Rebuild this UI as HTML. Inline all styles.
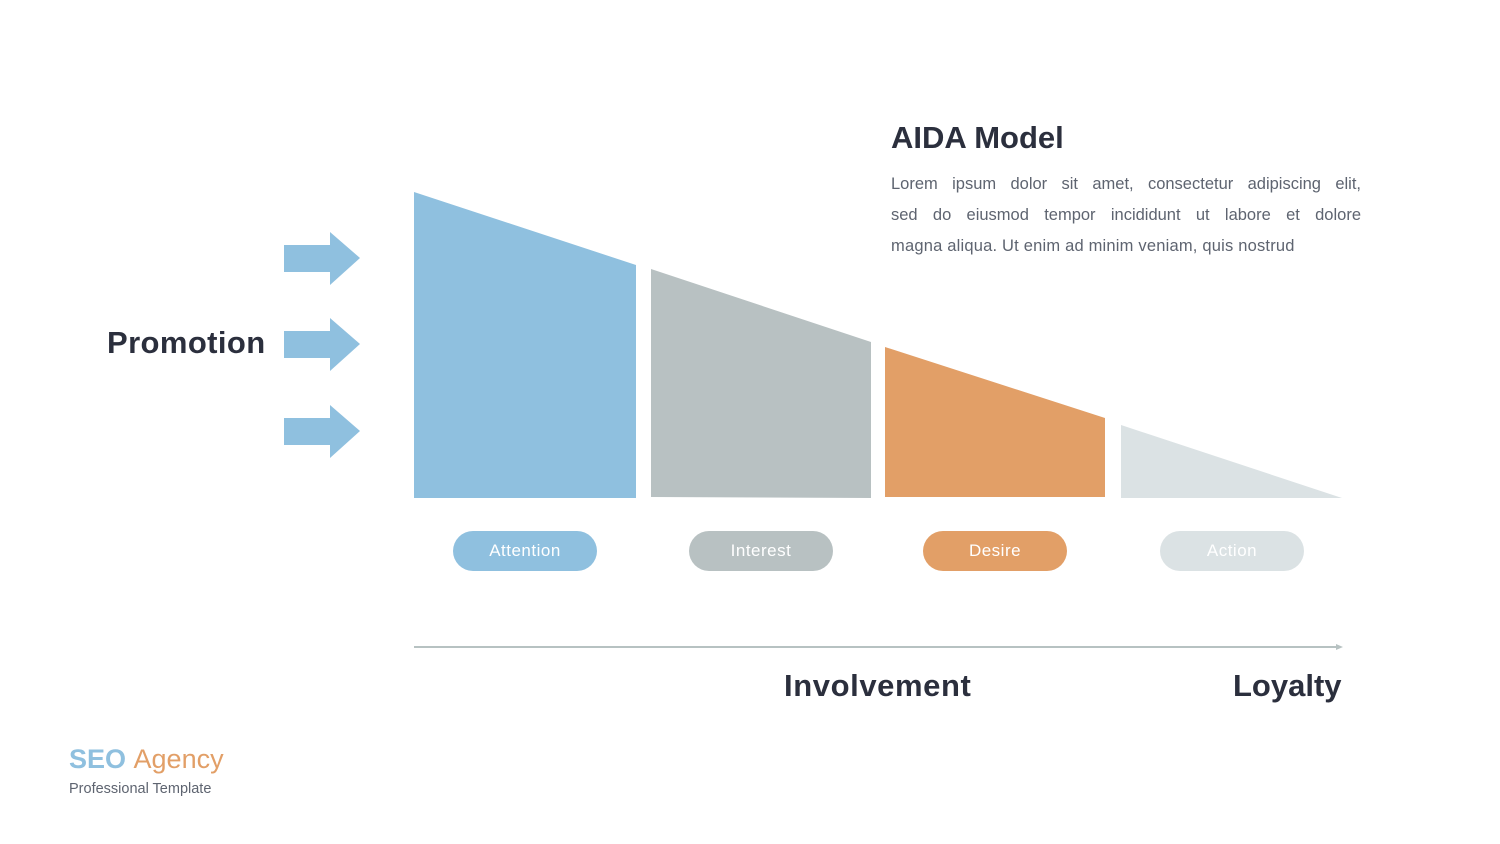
<!DOCTYPE html>
<html><head><meta charset="utf-8"><style>
body{margin:0;width:1500px;height:844px;background:#fff;position:relative;overflow:hidden;font-family:"Liberation Sans","DejaVu Sans",sans-serif}
.t{position:absolute;white-space:nowrap}
.h{font-weight:bold;color:#2b2f3d;font-size:31px}
.pl{position:absolute;left:891px;width:470px;font-size:16.5px;color:#5e6470;text-align:justify;text-align-last:justify;white-space:nowrap;line-height:24px}
.pill{position:absolute;top:531px;width:144px;height:40px;border-radius:20px;color:#fff;font-size:17px;letter-spacing:0.5px;line-height:40px;text-align:center}
</style></head><body>
<svg width="1500" height="844" style="position:absolute;left:0;top:0">
<polygon points="414,192 636,265 636,498 414,498" fill="#8fc0df"/>
<polygon points="651,269 871,342 871,498 651,497" fill="#b8c1c2"/>
<polygon points="885,347 1105,418 1105,497 885,497" fill="#e29f67"/>
<polygon points="1121,425 1342,498 1121,498" fill="#dbe2e4"/>
<g fill="#8fc0df">
<polygon points="284,245 330,245 330,232 360,258 330,285 330,272 284,272"/>
<polygon points="284,331 330,331 330,318 360,344 330,371 330,358 284,358"/>
<polygon points="284,418 330,418 330,405 360,431 330,458 330,445 284,445"/>
</g>
<line x1="414" y1="647" x2="1340" y2="647" stroke="#b7c2c2" stroke-width="2"/>
<polygon points="1336,644 1343,647 1336,650" fill="#b7c2c2"/>
</svg>
<div class="t h" style="left:891px;top:120px">AIDA Model</div>
<div class="pl" style="top:172px">Lorem ipsum dolor sit amet, consectetur adipiscing elit,</div>
<div class="pl" style="top:203px">sed do eiusmod tempor incididunt ut labore et dolore</div>
<div class="t" style="left:891px;top:234px;font-size:16.5px;line-height:24px;color:#5e6470;letter-spacing:0.2px">magna aliqua. Ut enim ad minim veniam, quis nostrud</div>
<div class="t h" style="left:107px;top:325px;letter-spacing:0.4px">Promotion</div>
<div class="pill" style="left:453px;background:#8fc0df">Attention</div>
<div class="pill" style="left:689px;background:#b8c1c2">Interest</div>
<div class="pill" style="left:923px;background:#e29f67">Desire</div>
<div class="pill" style="left:1160px;background:#dbe2e4">Action</div>
<div class="t h" style="left:784px;top:668px;letter-spacing:0.6px">Involvement</div>
<div class="t h" style="left:1233px;top:668px">Loyalty</div>
<div class="t" style="left:69px;top:744px;font-size:27px;font-weight:bold;color:#8fc0df">SEO <span style="font-weight:normal;color:#e29f67">Agency</span></div>
<div class="t" style="left:69px;top:781px;font-size:14.5px;color:#5e6470">Professional Template</div>
</body></html>
